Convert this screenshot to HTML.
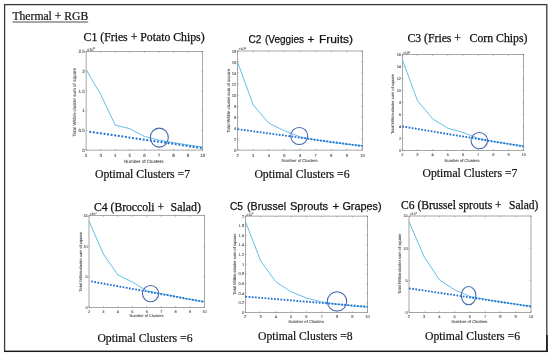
<!DOCTYPE html>
<html><head><meta charset="utf-8"><title>Thermal + RGB</title>
<style>html,body{margin:0;padding:0;background:#fff}body{width:550px;height:355px;overflow:hidden}svg{display:block}</style>
</head><body>
<svg width="550" height="355" viewBox="0 0 550 355">
<rect width="550" height="355" fill="#fff"/>
<rect x="4.6" y="4.6" width="542.2" height="346.8" fill="none" stroke="#3a3a3a" stroke-width="1.3"/>
<line x1="4" y1="351.4" x2="547.8" y2="351.4" stroke="#1a1a1a" stroke-width="1.4"/>
<line x1="547" y1="335" x2="547" y2="352" stroke="#1a1a1a" stroke-width="1.6"/>
<text x="12.4" y="20.4" font-family="'Liberation Serif', serif" font-size="11.8" fill="#111" stroke="#111" stroke-width="0.2" textLength="75.8" lengthAdjust="spacingAndGlyphs">Thermal + RGB</text>
<line x1="12.4" y1="22" x2="88.2" y2="22" stroke="#222" stroke-width="0.8"/>
<rect x="86.10" y="51.50" width="116.60" height="98.60" fill="#fff" stroke="#787878" stroke-width="0.65"/>
<path d="M86.10 150.10v-1.3M86.10 51.50v1.3M100.67 150.10v-1.3M100.67 51.50v1.3M115.25 150.10v-1.3M115.25 51.50v1.3M129.82 150.10v-1.3M129.82 51.50v1.3M144.40 150.10v-1.3M144.40 51.50v1.3M158.97 150.10v-1.3M158.97 51.50v1.3M173.55 150.10v-1.3M173.55 51.50v1.3M188.12 150.10v-1.3M188.12 51.50v1.3M202.70 150.10v-1.3M202.70 51.50v1.3M86.10 150.10h1.3M202.70 150.10h-1.3M86.10 130.38h1.3M202.70 130.38h-1.3M86.10 110.66h1.3M202.70 110.66h-1.3M86.10 90.94h1.3M202.70 90.94h-1.3M86.10 71.22h1.3M202.70 71.22h-1.3M86.10 51.50h1.3M202.70 51.50h-1.3" stroke="#787878" stroke-width="0.5" fill="none"/>
<g font-family="'Liberation Sans', sans-serif" font-size="45.8" fill="#4d4d4d" text-rendering="geometricPrecision" stroke="#5a5a5a" stroke-width="1.1">
<text transform="translate(86.10 156.65) scale(0.1000 0.1000)" text-anchor="middle">2</text>
<text transform="translate(100.67 156.65) scale(0.1000 0.1000)" text-anchor="middle">3</text>
<text transform="translate(115.25 156.65) scale(0.1000 0.1000)" text-anchor="middle">4</text>
<text transform="translate(129.82 156.65) scale(0.1000 0.1000)" text-anchor="middle">5</text>
<text transform="translate(144.40 156.65) scale(0.1000 0.1000)" text-anchor="middle">6</text>
<text transform="translate(158.97 156.65) scale(0.1000 0.1000)" text-anchor="middle">7</text>
<text transform="translate(173.55 156.65) scale(0.1000 0.1000)" text-anchor="middle">8</text>
<text transform="translate(188.12 156.65) scale(0.1000 0.1000)" text-anchor="middle">9</text>
<text transform="translate(202.70 156.65) scale(0.1000 0.1000)" text-anchor="middle">10</text>
<text transform="translate(84.90 151.75) scale(0.1000 0.1000)" text-anchor="end">0</text>
<text transform="translate(84.90 132.03) scale(0.1000 0.1000)" text-anchor="end">0.5</text>
<text transform="translate(84.90 112.31) scale(0.1000 0.1000)" text-anchor="end">1</text>
<text transform="translate(84.90 92.59) scale(0.1000 0.1000)" text-anchor="end">1.5</text>
<text transform="translate(84.90 72.87) scale(0.1000 0.1000)" text-anchor="end">2</text>
<text transform="translate(84.90 53.15) scale(0.1000 0.1000)" text-anchor="end">2.5</text>
<text transform="translate(124 162.65) scale(0.1000)" textLength="396.0" lengthAdjust="spacingAndGlyphs">Number of Clusters</text>
<text transform="translate(76.05 136.60) scale(0.1000 0.1000) rotate(-90)" textLength="687.0" lengthAdjust="spacingAndGlyphs">Total Within-cluster sum of square</text>
<text transform="translate(86.90 50.90) scale(0.1000 0.1000)" font-size="38.9">×10<tspan dy="-16.0" font-size="27.5">8</tspan></text>
</g>
<polyline points="86.10,69.64 100.67,94.49 115.25,125.10 129.82,128.68 144.40,136.49 158.97,140.08 173.55,142.61 188.12,144.97 202.70,147.14" fill="none" stroke="#55b7e6" stroke-width="0.9" stroke-linejoin="round"/>
<line x1="89.31" y1="131.68" x2="202.70" y2="148.13" stroke="#1f6fd2" stroke-width="2.0" stroke-dasharray="1.91 1.69"/>
<ellipse cx="159.3" cy="137.6" rx="9.00" ry="9.50" fill="none" stroke="#4166ae" stroke-width="1.05"/>
<text x="83.6" y="41.0" font-family="'Liberation Serif', serif" font-size="11.7" fill="#111" stroke="#111" stroke-width="0.25" textLength="121.0" lengthAdjust="spacingAndGlyphs">C1 (Fries + Potato Chips)</text>
<text x="95" y="178" font-family="'Liberation Serif', serif" font-size="11.9" fill="#111" stroke="#111" stroke-width="0.2" textLength="95.0" lengthAdjust="spacingAndGlyphs">Optimal Clusters =7</text>
<rect x="237.60" y="51.00" width="124.90" height="99.10" fill="#fff" stroke="#787878" stroke-width="0.65"/>
<path d="M237.60 150.10v-1.3M237.60 51.00v1.3M253.21 150.10v-1.3M253.21 51.00v1.3M268.82 150.10v-1.3M268.82 51.00v1.3M284.44 150.10v-1.3M284.44 51.00v1.3M300.05 150.10v-1.3M300.05 51.00v1.3M315.66 150.10v-1.3M315.66 51.00v1.3M331.27 150.10v-1.3M331.27 51.00v1.3M346.89 150.10v-1.3M346.89 51.00v1.3M362.50 150.10v-1.3M362.50 51.00v1.3M237.60 150.10h1.3M362.50 150.10h-1.3M237.60 139.09h1.3M362.50 139.09h-1.3M237.60 128.08h1.3M362.50 128.08h-1.3M237.60 117.07h1.3M362.50 117.07h-1.3M237.60 106.06h1.3M362.50 106.06h-1.3M237.60 95.04h1.3M362.50 95.04h-1.3M237.60 84.03h1.3M362.50 84.03h-1.3M237.60 73.02h1.3M362.50 73.02h-1.3M237.60 62.01h1.3M362.50 62.01h-1.3M237.60 51.00h1.3M362.50 51.00h-1.3" stroke="#787878" stroke-width="0.5" fill="none"/>
<g font-family="'Liberation Sans', sans-serif" font-size="42.0" fill="#4d4d4d" text-rendering="geometricPrecision" stroke="#5a5a5a" stroke-width="1.1">
<text transform="translate(237.60 156.51) scale(0.1000 0.1000)" text-anchor="middle">2</text>
<text transform="translate(253.21 156.51) scale(0.1000 0.1000)" text-anchor="middle">3</text>
<text transform="translate(268.82 156.51) scale(0.1000 0.1000)" text-anchor="middle">4</text>
<text transform="translate(284.44 156.51) scale(0.1000 0.1000)" text-anchor="middle">5</text>
<text transform="translate(300.05 156.51) scale(0.1000 0.1000)" text-anchor="middle">6</text>
<text transform="translate(315.66 156.51) scale(0.1000 0.1000)" text-anchor="middle">7</text>
<text transform="translate(331.27 156.51) scale(0.1000 0.1000)" text-anchor="middle">8</text>
<text transform="translate(346.89 156.51) scale(0.1000 0.1000)" text-anchor="middle">9</text>
<text transform="translate(362.50 156.51) scale(0.1000 0.1000)" text-anchor="middle">10</text>
<text transform="translate(236.40 151.61) scale(0.1000 0.1000)" text-anchor="end">0</text>
<text transform="translate(236.40 140.60) scale(0.1000 0.1000)" text-anchor="end">2</text>
<text transform="translate(236.40 129.59) scale(0.1000 0.1000)" text-anchor="end">4</text>
<text transform="translate(236.40 118.58) scale(0.1000 0.1000)" text-anchor="end">6</text>
<text transform="translate(236.40 107.57) scale(0.1000 0.1000)" text-anchor="end">8</text>
<text transform="translate(236.40 96.56) scale(0.1000 0.1000)" text-anchor="end">10</text>
<text transform="translate(236.40 85.55) scale(0.1000 0.1000)" text-anchor="end">12</text>
<text transform="translate(236.40 74.53) scale(0.1000 0.1000)" text-anchor="end">14</text>
<text transform="translate(236.40 63.52) scale(0.1000 0.1000)" text-anchor="end">16</text>
<text transform="translate(236.40 52.51) scale(0.1000 0.1000)" text-anchor="end">18</text>
<text transform="translate(281.6 161.51) scale(0.1000)" textLength="360.0" lengthAdjust="spacingAndGlyphs">Number of Clusters</text>
<text transform="translate(229.51 132.50) scale(0.1000 0.1000) rotate(-90)" textLength="635.0" lengthAdjust="spacingAndGlyphs">Total Within-cluster sum of square</text>
<text transform="translate(238.40 50.40) scale(0.1000 0.1000)" font-size="35.7">×10<tspan dy="-14.7" font-size="25.2">8</tspan></text>
</g>
<polyline points="237.60,62.01 253.21,104.95 268.82,123.12 284.44,130.83 300.05,136.89 315.66,140.19 331.27,142.39 346.89,144.32 362.50,145.70" fill="none" stroke="#55b7e6" stroke-width="0.9" stroke-linejoin="round"/>
<line x1="237.60" y1="129.18" x2="362.50" y2="146.08" stroke="#1f6fd2" stroke-width="1.85" stroke-dasharray="1.70 1.50"/>
<ellipse cx="299.2" cy="136" rx="8.50" ry="8.50" fill="none" stroke="#4166ae" stroke-width="1.05"/>
<text x="248.4" y="43.0" font-family="'Liberation Sans', sans-serif" font-size="10.8" fill="#111" stroke="#111" stroke-width="0.25" textLength="13.0" lengthAdjust="spacingAndGlyphs">C2</text>
<text x="265" y="43.0" font-family="'Liberation Sans', sans-serif" font-size="10.8" fill="#111" stroke="#111" stroke-width="0.25" textLength="39.0" lengthAdjust="spacingAndGlyphs">(Veggies</text>
<text x="307.4" y="43.0" font-family="'Liberation Sans', sans-serif" font-size="10.8" fill="#111" stroke="#111" stroke-width="0.25" textLength="7.0" lengthAdjust="spacingAndGlyphs">+</text>
<text x="319" y="43.0" font-family="'Liberation Sans', sans-serif" font-size="10.8" fill="#111" stroke="#111" stroke-width="0.25" textLength="34.0" lengthAdjust="spacingAndGlyphs">Fruits)</text>
<text x="254.4" y="178" font-family="'Liberation Serif', serif" font-size="11.9" fill="#111" stroke="#111" stroke-width="0.2" textLength="95.2" lengthAdjust="spacingAndGlyphs">Optimal Clusters =6</text>
<rect x="402.30" y="54.60" width="121.40" height="95.80" fill="#fff" stroke="#787878" stroke-width="0.65"/>
<path d="M402.30 150.40v-1.3M402.30 54.60v1.3M417.48 150.40v-1.3M417.48 54.60v1.3M432.65 150.40v-1.3M432.65 54.60v1.3M447.83 150.40v-1.3M447.83 54.60v1.3M463.00 150.40v-1.3M463.00 54.60v1.3M478.18 150.40v-1.3M478.18 54.60v1.3M493.35 150.40v-1.3M493.35 54.60v1.3M508.53 150.40v-1.3M508.53 54.60v1.3M523.70 150.40v-1.3M523.70 54.60v1.3M402.30 150.40h1.3M523.70 150.40h-1.3M402.30 138.43h1.3M523.70 138.43h-1.3M402.30 126.45h1.3M523.70 126.45h-1.3M402.30 114.47h1.3M523.70 114.47h-1.3M402.30 102.50h1.3M523.70 102.50h-1.3M402.30 90.53h1.3M523.70 90.53h-1.3M402.30 78.55h1.3M523.70 78.55h-1.3M402.30 66.57h1.3M523.70 66.57h-1.3M402.30 54.60h1.3M523.70 54.60h-1.3" stroke="#787878" stroke-width="0.5" fill="none"/>
<g font-family="'Liberation Sans', sans-serif" font-size="40.0" fill="#4d4d4d" text-rendering="geometricPrecision" stroke="#5a5a5a" stroke-width="1.1">
<text transform="translate(402.30 156.24) scale(0.1000 0.1000)" text-anchor="middle">2</text>
<text transform="translate(417.48 156.24) scale(0.1000 0.1000)" text-anchor="middle">3</text>
<text transform="translate(432.65 156.24) scale(0.1000 0.1000)" text-anchor="middle">4</text>
<text transform="translate(447.83 156.24) scale(0.1000 0.1000)" text-anchor="middle">5</text>
<text transform="translate(463.00 156.24) scale(0.1000 0.1000)" text-anchor="middle">6</text>
<text transform="translate(478.18 156.24) scale(0.1000 0.1000)" text-anchor="middle">7</text>
<text transform="translate(493.35 156.24) scale(0.1000 0.1000)" text-anchor="middle">8</text>
<text transform="translate(508.53 156.24) scale(0.1000 0.1000)" text-anchor="middle">9</text>
<text transform="translate(523.70 156.24) scale(0.1000 0.1000)" text-anchor="middle">10</text>
<text transform="translate(401.10 151.84) scale(0.1000 0.1000)" text-anchor="end">0</text>
<text transform="translate(401.10 139.87) scale(0.1000 0.1000)" text-anchor="end">2</text>
<text transform="translate(401.10 127.89) scale(0.1000 0.1000)" text-anchor="end">4</text>
<text transform="translate(401.10 115.91) scale(0.1000 0.1000)" text-anchor="end">6</text>
<text transform="translate(401.10 103.94) scale(0.1000 0.1000)" text-anchor="end">8</text>
<text transform="translate(401.10 91.97) scale(0.1000 0.1000)" text-anchor="end">10</text>
<text transform="translate(401.10 79.99) scale(0.1000 0.1000)" text-anchor="end">12</text>
<text transform="translate(401.10 68.01) scale(0.1000 0.1000)" text-anchor="end">14</text>
<text transform="translate(401.10 56.04) scale(0.1000 0.1000)" text-anchor="end">16</text>
<text transform="translate(444.6 161.84) scale(0.1000)" textLength="348.0" lengthAdjust="spacingAndGlyphs">Number of Clusters</text>
<text transform="translate(393.84 133.90) scale(0.1000 0.1000) rotate(-90)" textLength="599.0" lengthAdjust="spacingAndGlyphs">Total Within-cluster sum of square</text>
<text transform="translate(403.10 54.00) scale(0.1000 0.1000)" font-size="34.0">×10<tspan dy="-14.0" font-size="24.0">8</tspan></text>
</g>
<polyline points="402.30,59.39 417.48,100.70 432.65,118.79 447.83,128.25 463.00,132.44 478.18,138.43 493.35,141.42 508.53,143.81 523.70,145.91" fill="none" stroke="#55b7e6" stroke-width="0.9" stroke-linejoin="round"/>
<line x1="402.30" y1="126.45" x2="523.70" y2="146.51" stroke="#1f6fd2" stroke-width="1.85" stroke-dasharray="1.70 1.50"/>
<ellipse cx="479.3" cy="140.6" rx="8.30" ry="8.20" fill="none" stroke="#4166ae" stroke-width="1.05"/>
<text x="407.4" y="42.0" font-family="'Liberation Serif', serif" font-size="11.7" fill="#111" stroke="#111" stroke-width="0.25" textLength="53.6" lengthAdjust="spacingAndGlyphs">C3 (Fries +</text>
<text x="469.6" y="42.0" font-family="'Liberation Serif', serif" font-size="11.7" fill="#111" stroke="#111" stroke-width="0.25" textLength="57.8" lengthAdjust="spacingAndGlyphs">Corn Chips)</text>
<text x="422.6" y="176.6" font-family="'Liberation Serif', serif" font-size="11.9" fill="#111" stroke="#111" stroke-width="0.2" textLength="94.8" lengthAdjust="spacingAndGlyphs">Optimal Clusters =7</text>
<rect x="89.00" y="215.60" width="115.60" height="91.80" fill="#fff" stroke="#787878" stroke-width="0.65"/>
<path d="M89.00 307.40v-1.3M89.00 215.60v1.3M103.45 307.40v-1.3M103.45 215.60v1.3M117.90 307.40v-1.3M117.90 215.60v1.3M132.35 307.40v-1.3M132.35 215.60v1.3M146.80 307.40v-1.3M146.80 215.60v1.3M161.25 307.40v-1.3M161.25 215.60v1.3M175.70 307.40v-1.3M175.70 215.60v1.3M190.15 307.40v-1.3M190.15 215.60v1.3M204.60 307.40v-1.3M204.60 215.60v1.3M89.00 307.40h1.3M204.60 307.40h-1.3M89.00 276.80h1.3M204.60 276.80h-1.3M89.00 246.20h1.3M204.60 246.20h-1.3M89.00 215.60h1.3M204.60 215.60h-1.3" stroke="#787878" stroke-width="0.5" fill="none"/>
<g font-family="'Liberation Sans', sans-serif" font-size="39.3" fill="#4d4d4d" text-rendering="geometricPrecision" stroke="#5a5a5a" stroke-width="1.1">
<text transform="translate(89.00 313.01) scale(0.1000 0.1000)" text-anchor="middle">2</text>
<text transform="translate(103.45 313.01) scale(0.1000 0.1000)" text-anchor="middle">3</text>
<text transform="translate(117.90 313.01) scale(0.1000 0.1000)" text-anchor="middle">4</text>
<text transform="translate(132.35 313.01) scale(0.1000 0.1000)" text-anchor="middle">5</text>
<text transform="translate(146.80 313.01) scale(0.1000 0.1000)" text-anchor="middle">6</text>
<text transform="translate(161.25 313.01) scale(0.1000 0.1000)" text-anchor="middle">7</text>
<text transform="translate(175.70 313.01) scale(0.1000 0.1000)" text-anchor="middle">8</text>
<text transform="translate(190.15 313.01) scale(0.1000 0.1000)" text-anchor="middle">9</text>
<text transform="translate(204.60 313.01) scale(0.1000 0.1000)" text-anchor="middle">10</text>
<text transform="translate(87.80 308.81) scale(0.1000 0.1000)" text-anchor="end">0</text>
<text transform="translate(87.80 278.21) scale(0.1000 0.1000)" text-anchor="end">5</text>
<text transform="translate(87.80 247.61) scale(0.1000 0.1000)" text-anchor="end">10</text>
<text transform="translate(87.80 217.01) scale(0.1000 0.1000)" text-anchor="end">15</text>
<text transform="translate(129.6 317.41) scale(0.1000)" textLength="338.0" lengthAdjust="spacingAndGlyphs">Number of Clusters</text>
<text transform="translate(81.51 291.40) scale(0.1000 0.1000) rotate(-90)" textLength="593.0" lengthAdjust="spacingAndGlyphs">Total Within-cluster sum of square</text>
<text transform="translate(89.80 215.00) scale(0.1000 0.1000)" font-size="33.4">×10<tspan dy="-13.8" font-size="23.6">7</tspan></text>
</g>
<polyline points="89.00,221.11 103.45,254.16 117.90,274.96 132.35,282.00 146.80,290.88 161.25,293.63 175.70,296.38 190.15,299.44 204.60,301.59" fill="none" stroke="#55b7e6" stroke-width="0.9" stroke-linejoin="round"/>
<line x1="91.17" y1="281.39" x2="204.60" y2="302.01" stroke="#1f6fd2" stroke-width="1.85" stroke-dasharray="1.70 1.50"/>
<ellipse cx="150.6" cy="293.6" rx="8.10" ry="8.10" fill="none" stroke="#4166ae" stroke-width="1.05"/>
<text x="94" y="210.6" font-family="'Liberation Serif', serif" font-size="11.7" fill="#111" stroke="#111" stroke-width="0.25" textLength="70.0" lengthAdjust="spacingAndGlyphs">C4 (Broccoli +</text>
<text x="170.6" y="210.6" font-family="'Liberation Serif', serif" font-size="11.7" fill="#111" stroke="#111" stroke-width="0.25" textLength="30.4" lengthAdjust="spacingAndGlyphs">Salad)</text>
<text x="97.4" y="341.6" font-family="'Liberation Serif', serif" font-size="11.9" fill="#111" stroke="#111" stroke-width="0.2" textLength="95.2" lengthAdjust="spacingAndGlyphs">Optimal Clusters =6</text>
<rect x="245.40" y="216.10" width="122.20" height="96.40" fill="#fff" stroke="#787878" stroke-width="0.65"/>
<path d="M245.40 312.50v-1.3M245.40 216.10v1.3M260.68 312.50v-1.3M260.68 216.10v1.3M275.95 312.50v-1.3M275.95 216.10v1.3M291.23 312.50v-1.3M291.23 216.10v1.3M306.50 312.50v-1.3M306.50 216.10v1.3M321.78 312.50v-1.3M321.78 216.10v1.3M337.05 312.50v-1.3M337.05 216.10v1.3M352.33 312.50v-1.3M352.33 216.10v1.3M367.60 312.50v-1.3M367.60 216.10v1.3M245.40 312.50h1.3M367.60 312.50h-1.3M245.40 302.86h1.3M367.60 302.86h-1.3M245.40 293.22h1.3M367.60 293.22h-1.3M245.40 283.58h1.3M367.60 283.58h-1.3M245.40 273.94h1.3M367.60 273.94h-1.3M245.40 264.30h1.3M367.60 264.30h-1.3M245.40 254.66h1.3M367.60 254.66h-1.3M245.40 245.02h1.3M367.60 245.02h-1.3M245.40 235.38h1.3M367.60 235.38h-1.3M245.40 225.74h1.3M367.60 225.74h-1.3M245.40 216.10h1.3M367.60 216.10h-1.3" stroke="#787878" stroke-width="0.5" fill="none"/>
<g font-family="'Liberation Sans', sans-serif" font-size="40.8" fill="#4d4d4d" text-rendering="geometricPrecision" stroke="#5a5a5a" stroke-width="1.1">
<text transform="translate(245.40 318.07) scale(0.1000 0.1000)" text-anchor="middle">2</text>
<text transform="translate(260.68 318.07) scale(0.1000 0.1000)" text-anchor="middle">3</text>
<text transform="translate(275.95 318.07) scale(0.1000 0.1000)" text-anchor="middle">4</text>
<text transform="translate(291.23 318.07) scale(0.1000 0.1000)" text-anchor="middle">5</text>
<text transform="translate(306.50 318.07) scale(0.1000 0.1000)" text-anchor="middle">6</text>
<text transform="translate(321.78 318.07) scale(0.1000 0.1000)" text-anchor="middle">7</text>
<text transform="translate(337.05 318.07) scale(0.1000 0.1000)" text-anchor="middle">8</text>
<text transform="translate(352.33 318.07) scale(0.1000 0.1000)" text-anchor="middle">9</text>
<text transform="translate(367.60 318.07) scale(0.1000 0.1000)" text-anchor="middle">10</text>
<text transform="translate(244.20 313.97) scale(0.1000 0.1000)" text-anchor="end">0</text>
<text transform="translate(244.20 304.33) scale(0.1000 0.1000)" text-anchor="end">0.2</text>
<text transform="translate(244.20 294.69) scale(0.1000 0.1000)" text-anchor="end">0.4</text>
<text transform="translate(244.20 285.05) scale(0.1000 0.1000)" text-anchor="end">0.6</text>
<text transform="translate(244.20 275.41) scale(0.1000 0.1000)" text-anchor="end">0.8</text>
<text transform="translate(244.20 265.77) scale(0.1000 0.1000)" text-anchor="end">1</text>
<text transform="translate(244.20 256.13) scale(0.1000 0.1000)" text-anchor="end">1.2</text>
<text transform="translate(244.20 246.49) scale(0.1000 0.1000)" text-anchor="end">1.4</text>
<text transform="translate(244.20 236.85) scale(0.1000 0.1000)" text-anchor="end">1.6</text>
<text transform="translate(244.20 227.21) scale(0.1000 0.1000)" text-anchor="end">1.8</text>
<text transform="translate(244.20 217.57) scale(0.1000 0.1000)" text-anchor="end">2</text>
<text transform="translate(288.6 323.07) scale(0.1000)" textLength="354.0" lengthAdjust="spacingAndGlyphs">Number of Clusters</text>
<text transform="translate(236.47 294.40) scale(0.1000 0.1000) rotate(-90)" textLength="608.0" lengthAdjust="spacingAndGlyphs">Total Within-cluster sum of square</text>
<text transform="translate(246.20 215.50) scale(0.1000 0.1000)" font-size="34.7">×10<tspan dy="-14.3" font-size="24.5">8</tspan></text>
</g>
<polyline points="245.40,221.40 260.68,260.93 275.95,281.94 291.23,291.92 306.50,298.04 321.78,301.90 337.05,304.31 352.33,305.99 367.60,307.20" fill="none" stroke="#55b7e6" stroke-width="0.9" stroke-linejoin="round"/>
<line x1="245.40" y1="296.59" x2="367.60" y2="306.72" stroke="#1f6fd2" stroke-width="1.85" stroke-dasharray="1.70 1.50"/>
<ellipse cx="337" cy="301.4" rx="9.70" ry="9.70" fill="none" stroke="#4166ae" stroke-width="1.05"/>
<text x="230" y="210.0" font-family="'Liberation Sans', sans-serif" font-size="10.8" fill="#111" stroke="#111" stroke-width="0.25" textLength="13.0" lengthAdjust="spacingAndGlyphs">C5</text>
<text x="247" y="210.0" font-family="'Liberation Sans', sans-serif" font-size="10.8" fill="#111" stroke="#111" stroke-width="0.25" textLength="39.0" lengthAdjust="spacingAndGlyphs">(Brussel</text>
<text x="290" y="210.0" font-family="'Liberation Sans', sans-serif" font-size="10.8" fill="#111" stroke="#111" stroke-width="0.25" textLength="38.0" lengthAdjust="spacingAndGlyphs">Sprouts</text>
<text x="332.6" y="210.0" font-family="'Liberation Sans', sans-serif" font-size="10.8" fill="#111" stroke="#111" stroke-width="0.25" textLength="6.8" lengthAdjust="spacingAndGlyphs">+</text>
<text x="342.4" y="210.0" font-family="'Liberation Sans', sans-serif" font-size="10.8" fill="#111" stroke="#111" stroke-width="0.25" textLength="39.2" lengthAdjust="spacingAndGlyphs">Grapes)</text>
<text x="258" y="340.4" font-family="'Liberation Serif', serif" font-size="11.9" fill="#111" stroke="#111" stroke-width="0.2" textLength="94.6" lengthAdjust="spacingAndGlyphs">Optimal Clusters =8</text>
<rect x="409.00" y="216.00" width="122.00" height="96.50" fill="#fff" stroke="#787878" stroke-width="0.65"/>
<path d="M409.00 312.50v-1.3M409.00 216.00v1.3M424.25 312.50v-1.3M424.25 216.00v1.3M439.50 312.50v-1.3M439.50 216.00v1.3M454.75 312.50v-1.3M454.75 216.00v1.3M470.00 312.50v-1.3M470.00 216.00v1.3M485.25 312.50v-1.3M485.25 216.00v1.3M500.50 312.50v-1.3M500.50 216.00v1.3M515.75 312.50v-1.3M515.75 216.00v1.3M531.00 312.50v-1.3M531.00 216.00v1.3M409.00 312.50h1.3M531.00 312.50h-1.3M409.00 280.33h1.3M531.00 280.33h-1.3M409.00 248.17h1.3M531.00 248.17h-1.3M409.00 216.00h1.3M531.00 216.00h-1.3" stroke="#787878" stroke-width="0.5" fill="none"/>
<g font-family="'Liberation Sans', sans-serif" font-size="41.0" fill="#4d4d4d" text-rendering="geometricPrecision" stroke="#5a5a5a" stroke-width="1.1">
<text transform="translate(409.00 318.08) scale(0.1000 0.1000)" text-anchor="middle">2</text>
<text transform="translate(424.25 318.08) scale(0.1000 0.1000)" text-anchor="middle">3</text>
<text transform="translate(439.50 318.08) scale(0.1000 0.1000)" text-anchor="middle">4</text>
<text transform="translate(454.75 318.08) scale(0.1000 0.1000)" text-anchor="middle">5</text>
<text transform="translate(470.00 318.08) scale(0.1000 0.1000)" text-anchor="middle">6</text>
<text transform="translate(485.25 318.08) scale(0.1000 0.1000)" text-anchor="middle">7</text>
<text transform="translate(500.50 318.08) scale(0.1000 0.1000)" text-anchor="middle">8</text>
<text transform="translate(515.75 318.08) scale(0.1000 0.1000)" text-anchor="middle">9</text>
<text transform="translate(531.00 318.08) scale(0.1000 0.1000)" text-anchor="middle">10</text>
<text transform="translate(407.80 313.98) scale(0.1000 0.1000)" text-anchor="end">0</text>
<text transform="translate(407.80 281.81) scale(0.1000 0.1000)" text-anchor="end">5</text>
<text transform="translate(407.80 249.64) scale(0.1000 0.1000)" text-anchor="end">10</text>
<text transform="translate(407.80 217.48) scale(0.1000 0.1000)" text-anchor="end">15</text>
<text transform="translate(451.6 323.08) scale(0.1000)" textLength="358.0" lengthAdjust="spacingAndGlyphs">Number of Clusters</text>
<text transform="translate(400.88 293.70) scale(0.1000 0.1000) rotate(-90)" textLength="601.0" lengthAdjust="spacingAndGlyphs">Total Within-cluster sum of square</text>
<text transform="translate(409.80 215.40) scale(0.1000 0.1000)" font-size="34.8">×10<tspan dy="-14.3" font-size="24.6">7</tspan></text>
</g>
<polyline points="409.00,221.79 424.25,256.98 439.50,279.95 454.75,289.98 470.00,296.42 485.25,299.31 500.50,301.88 515.75,304.14 531.00,306.39" fill="none" stroke="#55b7e6" stroke-width="0.9" stroke-linejoin="round"/>
<line x1="409.00" y1="288.31" x2="531.00" y2="306.52" stroke="#1f6fd2" stroke-width="1.85" stroke-dasharray="1.70 1.50"/>
<ellipse cx="468.6" cy="295.6" rx="7.30" ry="9.20" fill="none" stroke="#4166ae" stroke-width="1.05"/>
<text x="401" y="208.6" font-family="'Liberation Serif', serif" font-size="11.7" fill="#111" stroke="#111" stroke-width="0.25" textLength="100.6" lengthAdjust="spacingAndGlyphs">C6 (Brussel sprouts +</text>
<text x="509" y="208.6" font-family="'Liberation Serif', serif" font-size="11.7" fill="#111" stroke="#111" stroke-width="0.25" textLength="29.4" lengthAdjust="spacingAndGlyphs">Salad)</text>
<text x="425" y="340.4" font-family="'Liberation Serif', serif" font-size="11.9" fill="#111" stroke="#111" stroke-width="0.2" textLength="95.0" lengthAdjust="spacingAndGlyphs">Optimal Clusters =6</text>
<circle cx="304.2" cy="210.9" r="0.55" fill="#222"/><circle cx="367.2" cy="210.9" r="0.55" fill="#222"/>
</svg>
</body></html>
